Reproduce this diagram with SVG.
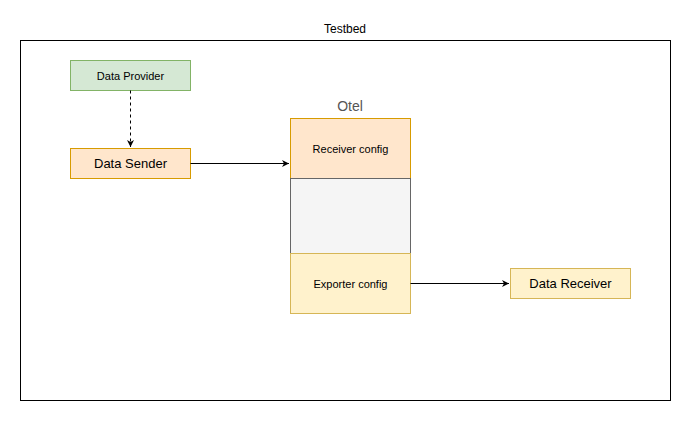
<svg xmlns="http://www.w3.org/2000/svg" width="691" height="421" viewBox="0 0 691 421">
<style>
text{font-family:"Liberation Sans",Arial,sans-serif;text-anchor:middle;dominant-baseline:central;fill:#000}
.s{font-size:11px}.m{font-size:13px}
.c{fill:none;stroke:#000;stroke-width:1}
</style>
<defs><marker id="a" markerWidth="8" markerHeight="8" refX="7" refY="4" orient="auto" markerUnits="userSpaceOnUse"><path d="M0,0.5 L7,4 L0,7.5 L2,4 Z" fill="#000"/></marker></defs>
<rect width="691" height="421" fill="#fff"/>
<g id="testbed"><rect x="20.5" y="40.5" width="650" height="360" fill="#fff" stroke="#000"/><text x="345" y="29" class="s" style="font-size:12px">Testbed</text></g>
<g id="provider"><rect x="70.5" y="60.5" width="120" height="30" fill="#d5e8d4" stroke="#82b366"/><text x="130.5" y="75.5" class="s">Data Provider</text></g>
<g id="sender"><rect x="70.5" y="148.5" width="120" height="30" fill="#ffe6cc" stroke="#d79b00"/><text x="130.5" y="163.5" class="m">Data Sender</text></g>
<g id="otel"><text x="350" y="106" style="font-size:14px;fill:#555">Otel</text>
<rect x="290.5" y="118.5" width="120" height="60" fill="#ffe6cc" stroke="#d79b00"/><text x="350.5" y="148.5" class="s">Receiver config</text>
<rect x="290.5" y="178.5" width="120" height="75" fill="#f5f5f5" stroke="#666"/>
<rect x="290.5" y="253.5" width="120" height="60" fill="#fff2cc" stroke="#d6b656"/><text x="350.5" y="283.5" class="s">Exporter config</text></g>
<g id="receiver"><rect x="510.5" y="268.5" width="120" height="30" fill="#fff2cc" stroke="#d6b656"/><text x="570.5" y="283.5" class="m">Data  Receiver</text></g>
<g id="connectors">
<path class="c" d="M130.5,90.5 V147" stroke-dasharray="3,3" marker-end="url(#a)"/>
<path class="c" d="M190.5,163.5 H289" marker-end="url(#a)"/>
<path class="c" d="M410.5,283.5 H509" marker-end="url(#a)"/>
</g>
</svg>
